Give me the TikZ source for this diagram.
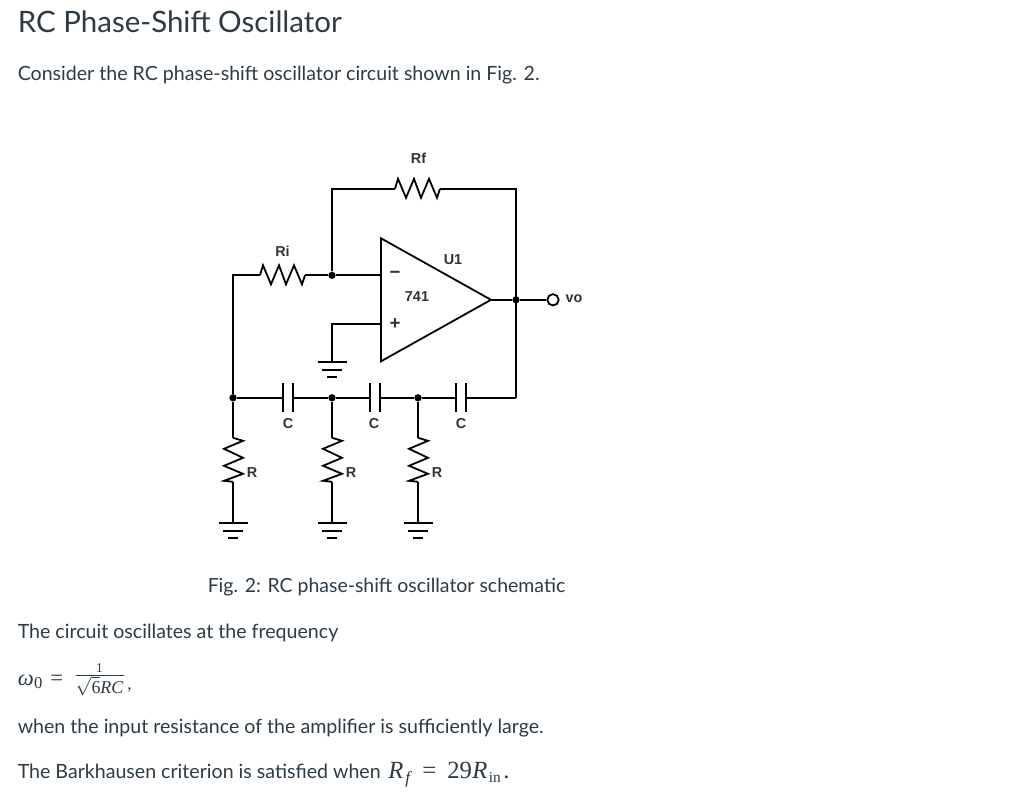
\documentclass[tikz,border=0pt]{standalone}
\usepackage[no-math]{fontspec}
\setmainfont{Lato}
\newfontfamily\labelfont{Liberation Sans}
\newfontfamily\formfont{Liberation Serif}
\definecolor{canvas}{HTML}{2D3B45}
\definecolor{lab}{HTML}{333333}
\tikzset{
  x=0.75pt,y=-0.75pt,
  wire/.style={draw=black,line width=1.35pt,line join=miter},
  dot/.style={circle,fill=black,inner sep=0pt,minimum size=5.5pt},
  term/.style={circle,draw=black,fill=white,line width=1.35pt,inner sep=0pt,minimum size=8.5pt},
  lbl/.style={font=\labelfont\bfseries\fontsize{10.8}{12}\selectfont,text=lab,inner sep=0pt},
  title/.style={anchor=base west,inner sep=0pt,text=canvas,font=\fontsize{22.1}{26}\selectfont},
  body/.style={anchor=base west,inner sep=0pt,text=canvas,font=\fontsize{14.7}{18}\selectfont},
  form/.style={anchor=base west,inner sep=0pt,text=canvas,font=\formfont\fontsize{17}{20}\selectfont},
}
% horizontal resistor between two named pins, 45 px long
\newcommand{\hresistor}[2]{\draw[wire] (#1) -- ++(3,-10) -- ++(8,19) -- ++(8,-19) -- ++(7,19) -- ++(8,-19) -- ++(8,19) -- (#2);}
% vertical resistor, 44 px long
\newcommand{\vresistor}[2]{\draw[wire] (#1) -- ++(10,3) -- ++(-19,8) -- ++(19,9) -- ++(-19,8) -- ++(19,8) -- ++(-19,7) -- (#2);}
% ground symbol hanging from a named pin
\newcommand{\groundsym}[1]{\draw[wire] ($(#1)+(-14.5,0)$) -- ($(#1)+(14.5,0)$) ($(#1)+(-10,8)$) -- ($(#1)+(10,8)$) ($(#1)+(-5,15)$) -- ($(#1)+(5,15)$);}
% capacitor plates at a named pin pair
\newcommand{\capplates}[2]{\draw[wire] ($(#1)+(0,-14.5)$) -- ($(#1)+(0,14.5)$) ($(#2)+(0,-14.5)$) -- ($(#2)+(0,14.5)$);}
\usetikzlibrary{calc}
\begin{document}
\begin{tikzpicture}
\useasboundingbox[fill=white] (0,0) rectangle (1024,796);

% texts
\node[title] (ttl) at (17.5,32) {RC Phase-Shift Oscillator};
\node[body] (intro) at (17.5,80) {Consider the RC phase-shift oscillator circuit shown in Fig. 2.};
\node[body,font=\fontsize{14.6}{18}\selectfont] (cap) at (207.5,592) {Fig. 2: RC phase-shift oscillator schematic};
\node[body] (t1) at (17.5,638) {The circuit oscillates at the frequency};
\node[form] (om) at (17.5,685) {\textit{ω}\kern0.3pt\raisebox{-2.5pt}{\fontsize{12.5}{13}\selectfont 0}};
\node[form] (eq) at (50,685) {=};
\node[form,anchor=center,font=\formfont\fontsize{13.5}{15}\selectfont] (fr) at (99.5,680) {$\frac{\hbox{\formfont\fontsize{10}{11}\selectfont 1}}{\sqrt{\hbox{\formfont 6}}\hbox{\formfont\itshape RC}}$};
\node[form,font=\formfont\fontsize{13}{14}\selectfont] (cm) at (127,689) {,};
\node[body] (t2) at (17.5,733) {when the input resistance of the amplifier is sufficiently large.};
\node[body] (t3) at (17.5,778) {The Barkhausen criterion is satisfied when};
\node[form,font=\formfont\fontsize{18.5}{20}\selectfont] (rf) at (388,778) {\textit{R}};
\node[form,font=\formfont\fontsize{13}{14}\selectfont] (rfs) at (405,783) {\textit{f}};
\node[form,font=\formfont\fontsize{18.5}{20}\selectfont] (eq2) at (422,778) {=};
\node[form,font=\formfont\fontsize{18.5}{20}\selectfont] (n29) at (447,778) {29};
\node[form,font=\formfont\fontsize{18.5}{20}\selectfont] (rin) at (472,778) {\textit{R}};
\node[form,font=\formfont\fontsize{11.5}{13}\selectfont] (rins) at (488.5,782) {in};
\node[form,font=\formfont\fontsize{18.5}{20}\selectfont] (pd) at (503,778) {.};

\begin{scope}[yshift=-0.6pt]
% op amp
\coordinate (oa) at (381,237.5);
\coordinate (ob) at (381,360.5);
\coordinate (oc) at (491,299);
\draw[wire] (oa) -- (oc) -- (ob) -- cycle;

% junctions and pins
\coordinate (minus) at (381,274.5);
\coordinate (plus) at (381,323.5);
\node[dot] (jm) at (332,274.5) {};
\node[dot] (jo) at (516,299) {};
\node[term] (vo) at (553,299) {};
\node[dot] (j1) at (233,397) {};
\node[dot] (j2) at (332,397) {};
\node[dot] (j3) at (418,397) {};
\coordinate (tl) at (332,188);
\coordinate (tr) at (516,188);
\coordinate (br) at (516,397);
\coordinate (il) at (233,274.5);
\coordinate (pc) at (332,323.5);
\coordinate (gp) at (332,361);

% feedback
\coordinate (rfa) at (395,188);
\coordinate (rfb) at (440,188);
\draw[wire] (jm) -- (tl) -- (rfa);
\hresistor{rfa}{rfb}
\draw[wire] (rfb) -- (tr) -- (br);
% input resistor
\coordinate (ria) at (260,274.5);
\coordinate (rib) at (305,274.5);
\draw[wire] (j1) -- (il) -- (ria);
\hresistor{ria}{rib}
\draw[wire] (rib) -- (jm) -- (minus);
% non-inverting input
\draw[wire] (plus) -- (pc) -- (gp);
\groundsym{gp}
% output
\draw[wire] (oc) -- (jo) -- (vo);

% capacitor ladder
\coordinate (c1a) at (283,397);
\coordinate (c1b) at (293,397);
\coordinate (c2a) at (370,397);
\coordinate (c2b) at (380,397);
\coordinate (c3a) at (456,397);
\coordinate (c3b) at (466,397);
\draw[wire] (j1) -- (c1a) (c1b) -- (j2) -- (c2a) (c2b) -- (j3) -- (c3a) (c3b) -- (br);
\capplates{c1a}{c1b}
\capplates{c2a}{c2b}
\capplates{c3a}{c3b}

% shunt resistors
\foreach \n/\x in {j1/233,j2/332,j3/418}{
  \coordinate (ra) at (\x,437);
  \coordinate (rb) at (\x,481);
  \coordinate (rg) at (\x,522);
  \draw[wire] (\n) -- (ra);
  \vresistor{ra}{rb}
  \draw[wire] (rb) -- (rg);
  \groundsym{rg}
}

% labels
\node[lbl] (lrf) at (418.5,157) {Rf};
\node[lbl] (lri) at (282.5,250) {Ri};
\node[lbl] (lu) at (453,259) {U1};
\node[lbl] (l741) at (417,296) {741};
\node[lbl,font=\labelfont\bfseries\fontsize{14}{15}\selectfont] (lm) at (395,274) {\textminus};
\node[lbl,font=\labelfont\bfseries\fontsize{14}{15}\selectfont] (lp) at (395,323) {+};
\node[lbl] (lvo) at (574,298) {vo};
\node[lbl] (lc1) at (288,423) {C};
\node[lbl] (lc2) at (374,423) {C};
\node[lbl] (lc3) at (461,423) {C};
\node[lbl] (lr1) at (252,472) {R};
\node[lbl] (lr2) at (351,472) {R};
\node[lbl] (lr3) at (437,472) {R};
\end{scope}
\end{tikzpicture}
\end{document}
